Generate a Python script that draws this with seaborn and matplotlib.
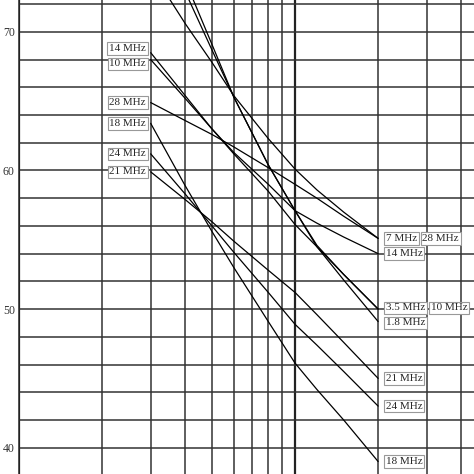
import numpy as np
import pandas as pd
import matplotlib
matplotlib.use('Agg')
import matplotlib.pyplot as plt
from matplotlib.ticker import MultipleLocator, LogLocator, NullFormatter
import seaborn as sns

###
### DATA
###

# x positions on the log axis where the curves were read
x_pts = [3, 4, 5, 6, 8, 10, 12, 15, 20]

bands = ['1.8 MHz', '3.5 MHz', '7 MHz', '10 MHz', '14 MHz',
         '18 MHz', '21 MHz', '24 MHz', '28 MHz']

y_1_8 = [79.3, 73.7, 69.1, 65.3, 60.4, 57.1, 54.5, 52.1, 49.1]
y_3_5 = [78.5, 72.9, 68.7, 65.3, 60.4, 57.1, 54.6, 52.5, 50.0]
y_7 = [74.5, 70.6, 67.8, 65.4, 62.3, 60.1, 58.6, 57.0, 55.1]
y_10 = [68.0, 65.2, 63.0, 61.2, 58.5, 56.1, 54.5, 52.5, 50.0]
y_14 = [68.5, 65.4, 63.0, 61.3, 59.0, 57.1, 56.2, 55.2, 54.0]
y_18 = [63.4, 58.9, 55.6, 53.0, 49.1, 46.1, 44.2, 42.0, 39.0]
y_21 = [59.9, 57.9, 56.3, 54.9, 52.8, 51.2, 49.6, 47.6, 45.0]
y_24 = [61.2, 58.3, 56.0, 54.1, 51.2, 48.9, 47.4, 45.5, 43.0]
y_28 = [64.9, 63.6, 62.6, 61.7, 60.2, 59.0, 58.0, 56.7, 55.1]

series = [y_1_8, y_3_5, y_7, y_10, y_14, y_18, y_21, y_24, y_28]

### long-form table for seaborn
rows = []
for band, ys in zip(bands, series):
    for xv, yv in zip(x_pts, ys):
        rows.append({'band': band, 'x': xv, 'y': yv})
df = pd.DataFrame(rows)

###
### PLOT
###

sns.set_style('white')
plt.rcParams['font.family'] = 'serif'
plt.rcParams['font.serif'] = ['Liberation Serif', 'DejaVu Serif']

fig = plt.figure(figsize=(4.74, 4.74), dpi=100)
ax = fig.add_axes([19 / 474, 0, 455 / 474, 1])
ax.set_xscale('log')

sns.lineplot(data=df, x='x', y='y', hue='band',
             palette={b: 'black' for b in bands},
             estimator=None, sort=False, legend=False,
             linewidth=0.9, ax=ax)

ax.set_xlim(1, 44.5)
ax.set_ylim(38.1, 72.3)

### grid
ax.xaxis.set_major_locator(LogLocator(base=10))
ax.xaxis.set_minor_locator(LogLocator(base=10, subs=np.arange(2, 10)))
ax.xaxis.set_major_formatter(NullFormatter())
ax.xaxis.set_minor_formatter(NullFormatter())
ax.yaxis.set_major_locator(MultipleLocator(10))
ax.yaxis.set_minor_locator(MultipleLocator(2))
ax.grid(True, which='major', axis='x', color='#222222', linewidth=1.6)
ax.grid(True, which='minor', axis='x', color='#333333', linewidth=1.1)
ax.grid(True, which='both', axis='y', color='#333333', linewidth=1.1)
ax.set_axisbelow(True)
ax.tick_params(which='both', length=0)
ax.tick_params(axis='y', pad=3, labelsize=8.5, labelcolor='#333333')
ax.set_xlabel('')
ax.set_ylabel('')
for s in ['top', 'right', 'bottom']:
    ax.spines[s].set_visible(False)
ax.spines['left'].set_color('#222222')
ax.spines['left'].set_linewidth(1.1)


def spread(vals, gap):
    # push labels apart so boxes do not overlap
    vals = np.array(vals, dtype=float)
    for _ in range(50):
        order = np.argsort(vals)
        moved = False
        for a, b in zip(order[:-1], order[1:]):
            d = vals[b] - vals[a]
            if d < gap:
                vals[a] -= (gap - d) / 2
                vals[b] += (gap - d) / 2
                moved = True
        if not moved:
            break
    return vals


box = dict(boxstyle='square,pad=0.15', facecolor='white',
           edgecolor='#999999', linewidth=0.8)

### left labels at the start of each line
starts = [ys[0] for ys in series]
left_y = spread(starts, 1.1)
for band, ly in zip(bands, left_y):
    ax.annotate(band, xy=(x_pts[0], ly), xytext=(-3.5, 0),
                textcoords='offset points', ha='right', va='center',
                fontsize=8, bbox=box)

### right labels at the end of each line; equal ends share a row
ends = [ys[-1] for ys in series]
rows_ = []
for i in np.argsort(ends):
    if rows_ and abs(ends[i] - ends[rows_[-1][0]]) < 0.3:
        rows_[-1].append(i)
    else:
        rows_.append([i])
row_y = spread([np.mean([ends[i] for i in r]) for r in rows_], 1.1)
for r, ry in zip(rows_, row_y):
    r = sorted(r, key=lambda i: bands.index(bands[i]))
    prev = ax.annotate(bands[r[0]], xy=(x_pts[-1], ry), xytext=(5.5, 0),
                       textcoords='offset points', ha='left', va='center',
                       fontsize=8, bbox=box)
    for i in r[1:]:
        prev = ax.annotate(bands[i], xy=(1, 0.5), xycoords=prev,
                           xytext=(4, 0), textcoords='offset points',
                           ha='left', va='center', fontsize=8, bbox=box)

fig.savefig('out.png', dpi=100)
